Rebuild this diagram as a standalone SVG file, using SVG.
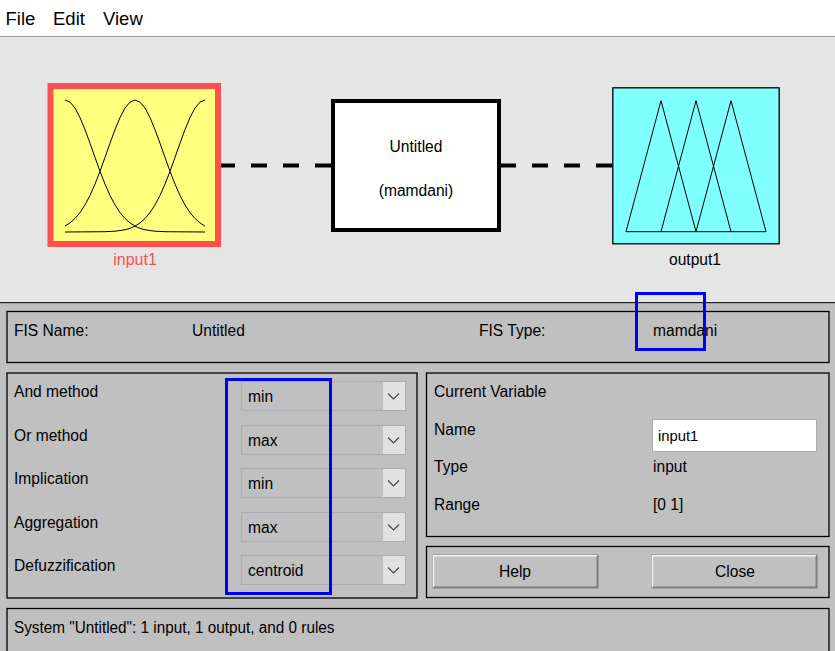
<svg xmlns="http://www.w3.org/2000/svg" width="835" height="651" viewBox="0 0 835 651">
<style>
text{font-family:"Liberation Sans",Arial,sans-serif;font-size:15.6px;fill:#000}
.menu{font-size:18.5px}
.panel{fill:#c0c0c0;stroke:#000;stroke-width:1.3}
.mf{fill:none;stroke:#000;stroke-width:1}
.conn{stroke:#000;stroke-width:4;stroke-dasharray:16 16;fill:none}
.hl{fill:none;stroke:#0000f0;stroke-width:3}
.combo{fill:#c0c0c0;stroke:#adadb5;stroke-width:1.2}
.cbtn{fill:#e1e1e1}
.chev{fill:none;stroke:#444;stroke-width:1.1}
.btn{fill:#c0c0c0;stroke:#808080;stroke-width:1}
.lit{fill:none;stroke:#f4f4f4;stroke-width:1.5}
.shade{fill:none;stroke:#7d7d7d;stroke-width:1.5}
</style>
<rect width="835" height="651" fill="#c0c0c0"/>
<g id="menubar">
<rect width="835" height="36.5" fill="#fff"/>
<rect y="36" width="835" height="1.2" fill="#a0a0a0"/>
<text class="menu" x="5.500" y="25">File</text>
<text class="menu" x="53" y="25">Edit</text>
<text class="menu" x="103" y="25">View</text>
</g>
<rect id="canvas" y="37" width="835" height="265" fill="#e5e5e5"/>
<rect y="302" width="835" height="1.2" fill="#222"/>
<g id="connectors">
<path class="conn" d="M221 165.500H332" stroke-dashoffset="2"/>
<path class="conn" d="M500 165.500H612.500"/>
</g>
<g id="input1">
<rect x="50.500" y="86" width="167.500" height="158" fill="#ffff80" stroke="#ff5050" stroke-width="6"/>
<polyline class="mf" points="65,100 70,102.100 75,108 80,117.600 85,129.600 90,143.200 95,157.400 100,171.300 105,184.100 110,195.400 115,204.900 120,212.600 125,218.500 130,222.900 135,226.100 140,228.300 145,229.800 155,231.200 165,231.700 205,232"/>
<polyline class="mf" points="65,226.100 70,222.900 75,218.500 80,212.600 85,204.900 90,195.400 95,184.100 100,171.300 105,157.400 110,143.200 115,129.600 120,117.600 125,108 130,102.100 135,100 140,102.100 145,108 150,117.600 155,129.600 160,143.200 165,157.400 170,171.300 175,184.100 180,195.400 185,204.900 190,212.600 195,218.500 200,222.900 205,226.100"/>
<polyline class="mf" points="65,232 105,231.700 115,231.200 125,229.800 130,228.300 135,226.100 140,222.900 145,218.500 150,212.600 155,204.900 160,195.400 165,184.100 170,171.300 175,157.400 180,143.200 185,129.600 190,117.600 195,108 200,102.100 205,100"/>
<text x="135" y="265" text-anchor="middle" style="fill:#ff5050;font-size:16px">input1</text>
</g>
<g id="system">
<rect x="333" y="101" width="166" height="129" fill="#fff" stroke="#000" stroke-width="4"/>
<text x="416" y="152" text-anchor="middle">Untitled</text>
<text x="416" y="196" text-anchor="middle">(mamdani)</text>
</g>
<g id="output1">
<rect x="612.800" y="87.800" width="166.400" height="156" fill="#80ffff" stroke="#000" stroke-width="1.3"/>
<path class="mf" d="M626 231.700L661 100.700L696 231.700M661 231.700L696 100.700L731 231.700M696 231.700L731 100.700L766 231.700M626 231.700H766"/>
<text x="695" y="265" text-anchor="middle">output1</text>
</g>
<g id="fis-panel">
<rect class="panel" x="7" y="311.500" width="822" height="51"/>
<text x="14" y="336">FIS Name:</text>
<text x="192" y="336">Untitled</text>
<text x="479" y="336">FIS Type:</text>
<text x="653" y="336">mamdani</text>
</g>
<g id="method-panel">
<rect class="panel" x="7" y="373" width="410" height="225"/>
<text x="14" y="397">And method</text>
<text x="14" y="441">Or method</text>
<text x="14" y="484">Implication</text>
<text x="14" y="528">Aggregation</text>
<text x="14" y="571">Defuzzification</text>
<g id="combo-and"><rect class="combo" x="241.500" y="381.500" width="164" height="29"/><rect class="cbtn" x="383" y="382" width="22" height="28"/><path class="chev" d="M388 393.500L393.500 399L399 393.500"/><text x="248" y="402">min</text></g>
<g id="combo-or"><rect class="combo" x="241.500" y="425.500" width="164" height="29"/><rect class="cbtn" x="383" y="426" width="22" height="28"/><path class="chev" d="M388 437.500L393.500 443L399 437.500"/><text x="248" y="446">max</text></g>
<g id="combo-imp"><rect class="combo" x="241.500" y="468.500" width="164" height="29"/><rect class="cbtn" x="383" y="469" width="22" height="28"/><path class="chev" d="M388 480.500L393.500 486L399 480.500"/><text x="248" y="489">min</text></g>
<g id="combo-agg"><rect class="combo" x="241.500" y="512.500" width="164" height="29"/><rect class="cbtn" x="383" y="513" width="22" height="28"/><path class="chev" d="M388 524.500L393.500 530L399 524.500"/><text x="248" y="533">max</text></g>
<g id="combo-def"><rect class="combo" x="241.500" y="555.500" width="164" height="29"/><rect class="cbtn" x="383" y="556" width="22" height="28"/><path class="chev" d="M388 567.500L393.500 573L399 567.500"/><text x="248" y="576">centroid</text></g>
</g>
<g id="variable-panel">
<rect class="panel" x="426.500" y="373" width="402.500" height="163.500"/>
<text x="434" y="397">Current Variable</text>
<text x="434" y="435">Name</text>
<rect x="652.500" y="419.500" width="164" height="32" fill="#fff" stroke="#adadad"/>
<text x="658" y="441" style="font-size:14.800px">input1</text>
<text x="434" y="472">Type</text>
<text x="653" y="472">input</text>
<text x="434" y="510">Range</text>
<text x="653" y="510">[0 1]</text>
</g>
<g id="button-panel">
<rect class="panel" x="426.500" y="546.500" width="402.500" height="51"/>
<g id="help"><rect class="btn" x="433" y="555" width="165" height="33"/><path class="lit" d="M433.500 587.500V555.800H597"/><path class="shade" d="M433.500 587.300H597.300V556"/><text x="515" y="577" text-anchor="middle">Help</text></g>
<g id="close"><rect class="btn" x="652" y="555" width="165" height="33"/><path class="lit" d="M652.500 587.500V555.800H816"/><path class="shade" d="M652.500 587.300H816.300V556"/><text x="735" y="577" text-anchor="middle">Close</text></g>
</g>
<g id="status-panel">
<rect class="panel" x="7" y="608.500" width="822" height="60"/>
<text x="14" y="633" textLength="320.500" lengthAdjust="spacingAndGlyphs">System "Untitled": 1 input, 1 output, and 0 rules</text>
</g>
<g id="highlights">
<rect class="hl" x="636.500" y="293.500" width="68" height="56"/>
<rect class="hl" x="226.500" y="379.500" width="104" height="214"/>
</g>
</svg>
